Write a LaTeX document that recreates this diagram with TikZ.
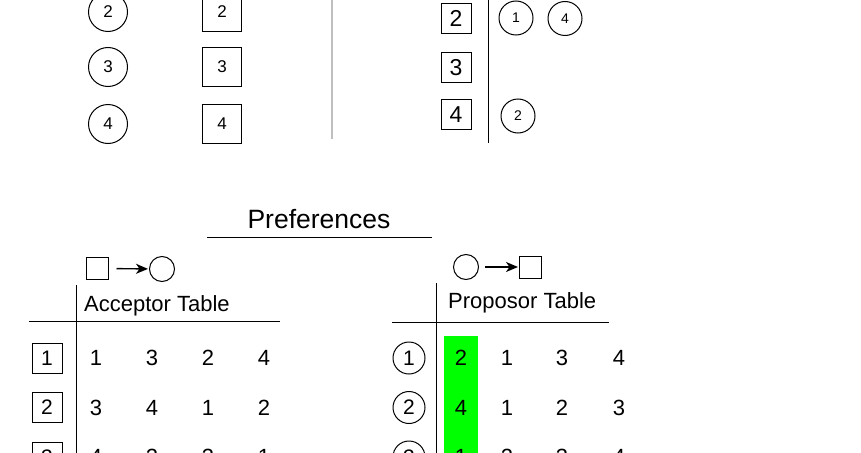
\documentclass[tikz,border=0pt]{standalone}
\usepackage{fontspec}
\setmainfont{Liberation Sans}
\usetikzlibrary{arrows.meta}
\newcommand{\fs}[1]{\fontsize{#1}{#1}\selectfont}
\tikzset{
  px/.style={x=1pt,y=-1pt},
  circ/.style={circle,draw,line width=1pt,minimum size=#1,inner sep=0pt},
  sq/.style={rectangle,draw,line width=1pt,minimum size=#1,inner sep=0pt},
  rule/.style={line width=1pt},
  arr/.style={line width=1.4pt,shorten <=8pt,shorten >=1pt,-{Stealth[length=12pt,width=10pt,inset=3.5pt]}},
  num/.style={inner sep=0pt,font=\fs{22}},
}
\begin{document}
\begin{tikzpicture}[px]
\useasboundingbox (0,0) rectangle (861,452);
\fill[white] (0,0) rectangle (861,452);
\clip (0,0) rectangle (861,452);
% top left
\foreach \i/\y in {2/12,3/67,4/124}{
  \node[circ=39pt,font=\fs{17}] (c\i) at (108,\y) {\i};
  \node[sq=39pt,font=\fs{17}] (s\i) at (222,\y) {\i};
}
\coordinate (g1) at (332,-5);
\coordinate (g2) at (332,139);
\draw[line width=1.5pt,black!25] (g1) -- (g2);
% top right
\node[sq=30pt,font=\fs{23}] (r2) at (456,18.5) {2};
\node[sq=30pt,font=\fs{23}] (r3) at (456,67.5) {3};
\node[sq=30pt,font=\fs{23}] (r4) at (456,114.5) {4};
\coordinate (v1) at (488,-5);
\coordinate (v2) at (488,143);
\draw[rule] (v1) -- (v2);
\node[circ=34pt,font=\fs{14}] (m1) at (516,18) {1};
\node[circ=34pt,font=\fs{14}] (m4) at (565,18.5) {4};
\node[circ=34pt,font=\fs{14}] (m2) at (518,116) {2};
% Preferences
\node[inner sep=0pt,font=\fs{26.5},anchor=base] (pref) at (319,228) {Preferences};
\coordinate (p1) at (207,237);
\coordinate (p2) at (432,237);
\draw[rule] (p1) -- (p2);
% Acceptor table
\node[sq=22pt] (ia) at (97,268.5) {};
\node[circ=25pt] (ib) at (162,269) {};
\draw[arr] (ia) -- (ib);
\coordinate (av1) at (76,285);
\coordinate (av2) at (76,460);
\draw[rule] (av1) -- (av2);
\node[inner sep=0pt,anchor=base west,font=\fs{22}] (at) at (84,311) {Acceptor Table};
\coordinate (ah1) at (29,321);
\coordinate (ah2) at (280,321);
\draw[rule] (ah1) -- (ah2);
\foreach \r/\y/\a/\b/\c/\d in {1/358/1/3/2/4,2/407.5/3/4/1/2,3/457/4/2/3/1}{
  \node[sq=30pt,font=\fs{21}] (ar\r) at (47,\y) {\r};
  \node[num] (a\r a) at (96,\y) {\a};
  \node[num] (a\r b) at (152,\y) {\b};
  \node[num] (a\r c) at (208,\y) {\c};
  \node[num] (a\r d) at (264,\y) {\d};
}
% Proposor table
\fill[green] (444,336) rectangle (478,460);
\node[circ=25pt] (ja) at (466,267) {};
\node[sq=22pt] (jb) at (530.5,267) {};
\draw[arr,shorten <=6pt] (ja) -- (jb);
\coordinate (pv1) at (436,283);
\coordinate (pv2) at (436,460);
\draw[rule] (pv1) -- (pv2);
\node[inner sep=0pt,anchor=base west,font=\fs{22}] (pt) at (448,308) {Proposor Table};
\coordinate (ph1) at (392,322);
\coordinate (ph2) at (609,322);
\draw[rule] (ph1) -- (ph2);
\foreach \r/\y/\a/\b/\c/\d in {1/358/2/1/3/4,2/407.5/4/1/2/3,3/457/1/2/3/4}{
  \node[circ=32pt,font=\fs{21}] (pr\r) at (409,\y) {\r};
  \node[num] (p\r a) at (461,\y) {\a};
  \node[num] (p\r b) at (507,\y) {\b};
  \node[num] (p\r c) at (562,\y) {\c};
  \node[num] (p\r d) at (619,\y) {\d};
}
\end{tikzpicture}
\end{document}
